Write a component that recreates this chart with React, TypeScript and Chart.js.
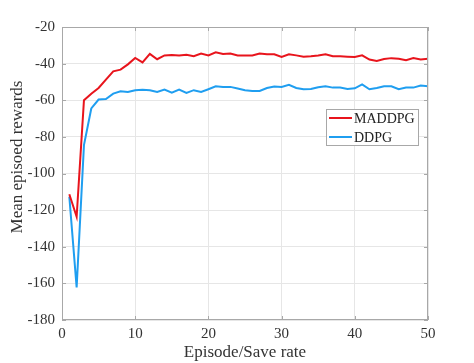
import React, { useEffect, useRef } from "react";
import { Chart, registerables } from "chart.js";

Chart.register(...registerables);

const episodes: number[] = Array.from({ length: 50 }, (_, i) => i + 1);

const maddpgRewards: number[] = [
  -111.3, -123.6, -60, -56.4, -53.3, -48.7, -44.2, -43.3, -40.4, -36.9,
  -39.3, -34.7, -37.6, -35.5, -35.3, -35.5, -35.1, -36, -34.5, -35.5,
  -33.8, -34.7, -34.5, -35.5, -35.6, -35.5, -34.5, -34.9, -34.9, -36.4,
  -34.9, -35.5, -36.2, -36, -35.6, -34.9, -36, -36, -36.2, -36.4,
  -35.5, -37.8, -38.5, -37.5, -37, -37.3, -38.2, -37, -37.8, -37.3,
];

const ddpgRewards: number[] = [
  -112.7, -162.2, -84.5, -64.5, -59.6, -59.3, -56.4, -55.1, -55.5, -54.5,
  -54.2, -54.5, -55.5, -54.2, -55.8, -54.2, -56, -54.5, -55.5, -54,
  -52.4, -52.7, -52.7, -53.6, -54.5, -54.9, -54.9, -53.3, -52.5, -52.7,
  -51.6, -53.3, -54, -53.9, -52.9, -52.4, -53.1, -53.1, -53.8, -53.5,
  -51.3, -54, -53.3, -52.4, -52.4, -54, -53.1, -53.1, -52, -52.4,
];

const seriesLabels: string[] = ["MADDPG", "DDPG"];
const seriesColors: string[] = ["#e8141c", "#1f9ef0"];
const xTitle = "Episode/Save rate";
const yTitle = "Mean episoed rewards";
const xTickMin = 0, xTickMax = 50, xTickStep = 10;
const yTickMin = -180, yTickMax = -20, yTickStep = 20;

const SERIF = "'Liberation Serif', 'Times New Roman', serif";
const FRAME = "#a8a8a8";

const framePlugin = {
  id: "matlabFrame",
  afterDatasetsDraw(chart: any) {
    const { ctx, chartArea } = chart;
    const { left, right, top, bottom } = chartArea;
    ctx.save();
    ctx.strokeStyle = FRAME;
    ctx.lineWidth = 1;
    ctx.strokeRect(left + 0.5, top + 0.5, right - left - 1, bottom - top - 1);
    const tl = 4;
    ctx.beginPath();
    const xs = chart.scales.x;
    xs.ticks.forEach((t: any) => {
      const px = Math.round(xs.getPixelForValue(t.value)) + 0.5;
      ctx.moveTo(px, bottom);
      ctx.lineTo(px, bottom - tl);
      ctx.moveTo(px, top);
      ctx.lineTo(px, top + tl);
    });
    const ys = chart.scales.y;
    ys.ticks.forEach((t: any) => {
      const py = Math.round(ys.getPixelForValue(t.value)) + 0.5;
      ctx.moveTo(left, py);
      ctx.lineTo(left + tl, py);
      ctx.moveTo(right, py);
      ctx.lineTo(right - tl, py);
    });
    ctx.stroke();

    // y axis title
    ctx.fillStyle = "#333";
    ctx.font = `17px ${SERIF}`;
    ctx.textAlign = "center";
    ctx.textBaseline = "middle";
    ctx.translate(18, 157);
    ctx.rotate(-Math.PI / 2);
    ctx.fillText(yTitle, 0, 0);
    ctx.restore();

    // legend
    ctx.save();
    const lx = 326.5, ly = 109.5, lw = 92, lh = 36;
    ctx.fillStyle = "#fff";
    ctx.fillRect(lx, ly, lw, lh);
    ctx.strokeStyle = FRAME;
    ctx.lineWidth = 1;
    ctx.strokeRect(lx, ly, lw, lh);
    ctx.font = `14px ${SERIF}`;
    ctx.textAlign = "left";
    ctx.textBaseline = "middle";
    chart.data.datasets.forEach((ds: any, i: number) => {
      const cy = 118 + i * 19;
      ctx.strokeStyle = ds.borderColor;
      ctx.lineWidth = 2;
      ctx.beginPath();
      ctx.moveTo(329, cy);
      ctx.lineTo(352, cy);
      ctx.stroke();
      ctx.fillStyle = "#222";
      ctx.fillText(ds.label, 354, cy + 1);
    });
    ctx.restore();
  },
};

export default function App() {
  const canvasRef = useRef<HTMLCanvasElement | null>(null);

  useEffect(() => {
    if (!canvasRef.current) return;
    const datasets = [maddpgRewards, ddpgRewards].map((vals, i) => ({
      label: seriesLabels[i],
      data: episodes.map((x, j) => ({ x, y: vals[j] })),
      borderColor: seriesColors[i],
      backgroundColor: seriesColors[i],
      borderWidth: 2,
      pointRadius: 0,
      tension: 0,
      fill: false,
    }));
    const chart = new Chart(canvasRef.current, {
      type: "line",
      data: { datasets },
      options: {
        animation: false,
        responsive: false,
        maintainAspectRatio: false,
        layout: { padding: { left: 0, top: 27, right: 46, bottom: 0 } },
        plugins: { legend: { display: false }, tooltip: { enabled: false } },
        scales: {
          x: {
            type: "linear",
            min: xTickMin,
            max: xTickMax,
            afterFit: (s: any) => { s.height = 43; },
            ticks: {
              stepSize: xTickStep,
              padding: 5,
              color: "#333",
              font: { family: SERIF, size: 15 },
            },
            grid: { color: "#e6e6e6", drawTicks: false },
            border: { display: false },
            title: {
              display: true,
              text: xTitle,
              color: "#333",
              font: { family: SERIF, size: 17 },
              padding: { top: 0, bottom: 0 },
            },
          },
          y: {
            type: "linear",
            min: yTickMin,
            max: yTickMax,
            afterFit: (s: any) => { s.width = 62; },
            ticks: {
              stepSize: yTickStep,
              padding: 7,
              color: "#333",
              font: { family: SERIF, size: 15 },
            },
            grid: { color: "#e6e6e6", drawTicks: false },
            border: { display: false },
          },
        },
      },
      plugins: [framePlugin],
    });
    return () => chart.destroy();
  }, []);

  return (
    <div style={{ position: "fixed", left: 0, top: 0, width: 474, height: 363, background: "#fff" }}>
      <canvas ref={canvasRef} width={474} height={363} style={{ display: "block" }} />
    </div>
  );
}
